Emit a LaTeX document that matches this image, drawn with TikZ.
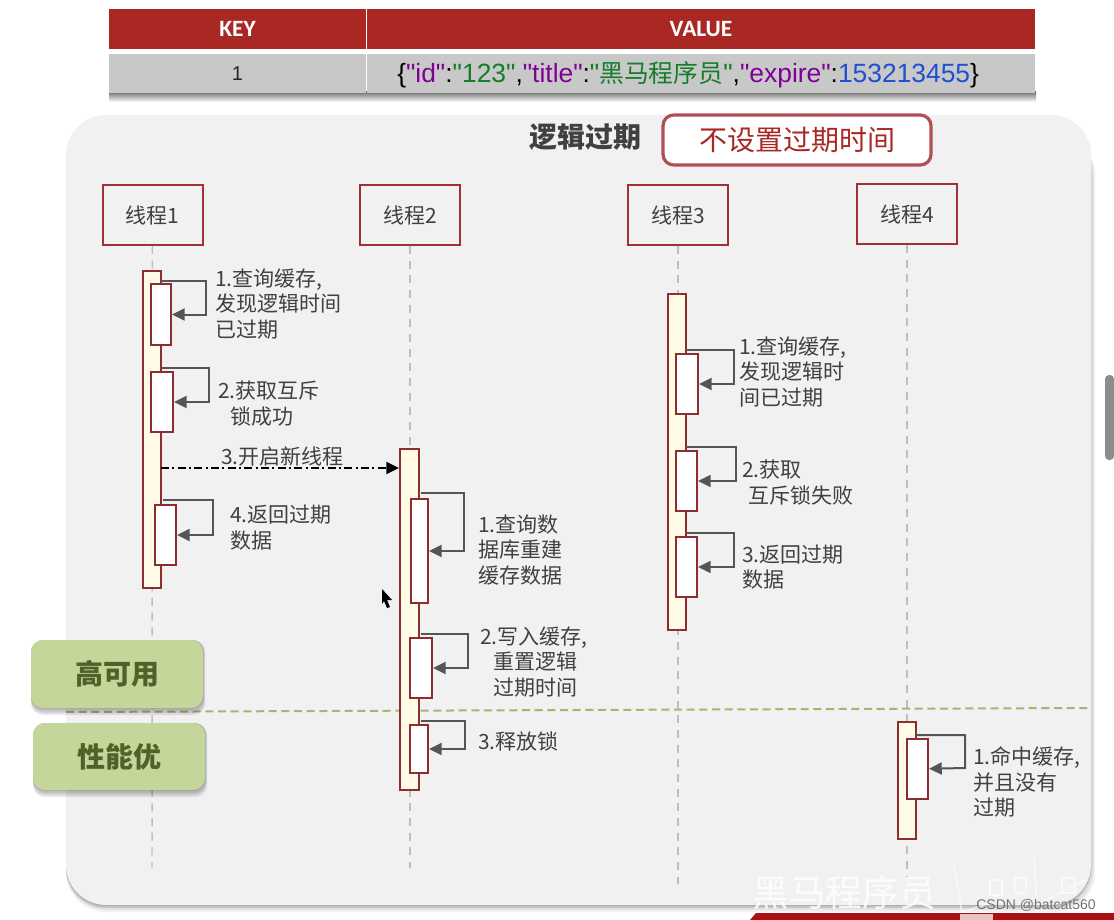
\documentclass[tikz,border=0pt]{standalone}
\usepackage{fontspec}
\usepackage{xcolor}
\usetikzlibrary{arrows.meta}
\setmainfont{Noto Sans CJK SC}
\newfontfamily\arialfont{Liberation Sans}
\newfontfamily\keyfont{Carlito}
\definecolor{hmred}{RGB}{169, 40, 36}
\definecolor{hmgrey}{RGB}{200, 200, 200}
\definecolor{hmpanel}{RGB}{241, 241, 241}
\definecolor{hmborder}{RGB}{142, 45, 48}
\definecolor{hmframe}{RGB}{163, 48, 55}
\definecolor{hmbar}{RGB}{255, 251, 230}
\definecolor{hmtext}{RGB}{64, 64, 64}
\definecolor{hmarrow}{RGB}{85, 85, 85}
\definecolor{hmlife}{RGB}{190, 190, 190}
\definecolor{hmgreen}{RGB}{197, 214, 155}
\definecolor{hmgreentext}{RGB}{79, 98, 40}
\definecolor{hmdash}{RGB}{169, 180, 111}
\definecolor{hmstrip}{RGB}{172, 16, 20}
\definecolor{jsonkey}{RGB}{128, 0, 150}
\definecolor{jsonstr}{RGB}{20, 125, 40}
\definecolor{jsonnum}{RGB}{30, 80, 210}
\tikzset{
  boxsize/.style 2 args={minimum width=#1*0.75pt, minimum height=#2*0.75pt, inner sep=0pt},
  headcell/.style={fill=hmred, text=white, font=\keyfont\bfseries\fontsize{17.5}{20}\selectfont},
  rowcell/.style={fill=hmgrey, text=black!85},
  thread/.style={draw=hmframe, line width=1.5pt, fill=hmpanel, text=hmtext, boxsize={100}{60}, font=\fontsize{15.75}{19}\selectfont},
  lifeline/.style={hmlife, line width=1.1pt, dash pattern=on 6pt off 5pt},
  outerbar/.style={draw=hmborder, line width=1.6pt, fill=hmbar},
  innerbar/.style={draw=hmborder, line width=1.6pt, fill=white},
  selfloop/.style={hmarrow, line width=1.5pt, -{Triangle[length=9.5pt,width=9pt]}},
  steptext/.style={anchor=west, align=left, inner sep=0pt, text=hmtext, font=\fontsize{15.75}{19.2}\selectfont},
  tagbox/.style={fill=hmgreen, rounded corners=9pt, boxsize={172}{68}, text=hmgreentext, font=\bfseries\fontsize{21}{25}\selectfont},
  softshade/.style={black, opacity=0.09},
  paleshade/.style={black, opacity=0.05},
}
\begin{document}
\begin{tikzpicture}[x=0.75pt, y=-0.75pt]
\useasboundingbox (0,0) rectangle (1114,920);
\fill[white] (0,0) rectangle (1114,920);

% Table
\shade[top color=black!55, bottom color=white] (109,92) rectangle (1036,102);
\node[headcell, boxsize={257}{40}] (keyhead) at (237.5,29) {KEY};
\node[headcell, boxsize={668}{40}] (valuehead) at (701,29) {VALUE};
\node[rowcell, boxsize={257}{39}, font=\arialfont\fontsize{15}{18}\selectfont] (keycell) at (237.5,73.5) {1};
\node[rowcell, boxsize={668}{39}] (valuecell) at (701,73.5) {};
\node[anchor=west, inner sep=0pt, font=\arialfont\fontsize{19.8}{22}\selectfont] (jsontext) at (397,75) {\{\textcolor{jsonkey}{"id"}:\textcolor{jsonstr}{"123"},\textcolor{jsonkey}{"title"}:\textcolor{jsonstr}{"{\rmfamily\fontsize{18.6}{22}\selectfont 黑马程序员}"},\textcolor{jsonkey}{"expire"}:\textcolor{jsonnum}{153213455}\}};

% Panel
\foreach \grow in {1,3,5,7}
  \fill[paleshade, rounded corners=30pt] (66,135) rectangle (1091+\grow*0.6,905+\grow);
\foreach \grow in {1,3}
  \fill[softshade, rounded corners=30pt] (66,500) rectangle (1091,905+\grow);
\node[fill=hmpanel, rounded corners=30pt, boxsize={1025}{790}] (panel) at (578.5,510) {};
\fill[black!45, rounded corners=3pt] (1105,375) -- (1114,375) -- (1114,460) -- (1105,460) -- cycle;

% Title
\node[text=hmtext, font=\bfseries\fontsize{21}{25}\selectfont] (title) at (585,137) {逻辑过期};
\node[draw=hmframe!85, line width=2.4pt, fill=white, rounded corners=8pt, boxsize={268}{50}, text=hmred, font=\fontsize{21}{25}\selectfont] (note) at (797,140) {不设置过期时间};

% Threads
\node[thread] (th1) at (152.5,215) {线程1};
\node[thread] (th2) at (410,215) {线程2};
\node[thread] (th3) at (678,215) {线程3};
\node[thread] (th4) at (907,214) {线程4};

\coordinate (end1) at (152,868);
\coordinate (end2) at (410,868);
\coordinate (end3) at (678,884);
\coordinate (end4) at (907,888);
\draw[lifeline] (th1) -- (end1);
\draw[lifeline] (th2) -- (end2);
\draw[lifeline] (th3) -- (end3);
\draw[lifeline] (th4) -- (end4);

% Divider
\coordinate (divl) at (66,712);
\coordinate (divr) at (1091,708);
\draw[hmdash, line width=1.5pt, dash pattern=on 6pt off 3.5pt] (divl) -- (divr);

% Thread 1
\node[outerbar, boxsize={18}{317}] (bar1) at (152,429.5) {};
\node[innerbar, boxsize={20}{61}] (q11) at (161,314.5) {};
\node[innerbar, boxsize={22}{60}] (q12) at (162,402) {};
\node[innerbar, boxsize={21}{60}] (q13) at (165.5,535) {};
\coordinate (s11) at (160,281);
\coordinate (s12) at (160,368);
\coordinate (s13) at (163,500);
\draw[selfloop] (s11) -- (206,281) -- (206,314.5) -- (q11);
\draw[selfloop] (s12) -- (209,368) -- (209,402) -- (q12);
\draw[selfloop] (s13) -- (213,500) -- (213,535) -- (q13);
\node[steptext] (t11) at (215,304) {1.查询缓存,\\发现逻辑时间\\已过期};
\node[steptext] (t12) at (218,403.5) {2.获取互斥\\\hspace*{9pt}锁成功};
\node[steptext] (t14) at (230,527.5) {4.返回过期\\数据};

% Thread 2
\node[outerbar, boxsize={19}{341}] (bar2) at (409.5,619.5) {};
\node[innerbar, boxsize={17}{104}] (q21) at (419.5,551) {};
\node[innerbar, boxsize={22}{60}] (q22) at (421,668) {};
\node[innerbar, boxsize={18}{48}] (q23) at (419,749) {};
\coordinate (s21) at (421,493);
\coordinate (s22) at (421,634);
\coordinate (s23) at (421,721);
\draw[selfloop] (s21) -- (464,493) -- (464,551) -- (q21);
\draw[selfloop] (s22) -- (468,634) -- (468,668) -- (q22);
\draw[selfloop] (s23) -- (465,721) -- (465,749) -- (q23);
\node[steptext] (t21) at (478,550) {1.查询数\\据库重建\\缓存数据};
\node[steptext] (t22) at (480,662) {2.写入缓存,\\\hspace*{10pt}重置逻辑\\\hspace*{10pt}过期时间};
\node[steptext] (t23) at (478,741) {3.释放锁};

% New thread
\coordinate (start) at (161,468);
\draw[black, line width=1.4pt, dash pattern=on 6pt off 2.5pt on 1.5pt off 2.5pt, -{Triangle[length=9.5pt,width=9pt]}] (start) -- (bar2.west |- start);
\node[steptext] (t13) at (221,457) {3.开启新线程};

% Thread 3
\node[outerbar, boxsize={18}{336}] (bar3) at (677,462) {};
\node[innerbar, boxsize={22}{60}] (q31) at (687,384) {};
\node[innerbar, boxsize={21}{60}] (q32) at (686.5,481) {};
\node[innerbar, boxsize={21}{60}] (q33) at (686.5,567) {};
\coordinate (s31) at (686,350);
\coordinate (s32) at (686,447);
\coordinate (s33) at (686,533);
\draw[selfloop] (s31) -- (734,350) -- (734,384) -- (q31);
\draw[selfloop] (s32) -- (736,447) -- (736,481) -- (q32);
\draw[selfloop] (s33) -- (734,533) -- (734,567) -- (q33);
\node[steptext] (t31) at (739,372) {1.查询缓存,\\发现逻辑时\\间已过期};
\node[steptext] (t32) at (742,482.5) {2.获取\\\hspace*{5pt}互斥锁失败};
\node[steptext] (t33) at (742,567) {3.返回过期\\数据};

% Thread 4
\node[outerbar, boxsize={18}{117}] (bar4) at (907,780.5) {};
\node[innerbar, boxsize={21}{60}] (q41) at (917.5,769) {};
\coordinate (s41) at (916,735);
\draw[selfloop] (s41) -- (965,735) -- (965,768) -- (q41);
\node[steptext] (t41) at (973,782) {1.命中缓存,\\并且没有\\过期};

% Tags
\foreach \grow in {1,3,5,7} {
  \fill[softshade, rounded corners=9pt] (31,640) rectangle (203+\grow*0.3,708+\grow);
  \fill[softshade, rounded corners=9pt] (33,723) rectangle (205+\grow*0.3,790+\grow);
}
\node[tagbox] (tag1) at (117,674) {高可用};
\node[tagbox, boxsize={172}{67}] (tag2) at (119,756.5) {性能优};

% Cursor
\fill[black] (382,589) -- (392,600) -- (387,600) -- (390,607) -- (387,608) -- (384,601) -- (382,604) -- cycle;

% Bottom strip
\fill[hmstrip] (756,913) -- (1114,913) -- (1114,920) -- (750,920) -- cycle;
\fill[white, opacity=0.75] (960,914) -- (993,914) -- (993,920) -- (960,920) -- cycle;
\draw[white, line width=1pt, opacity=0.7] (953,862) -- (962,912) -- (1000,900);
\draw[white, line width=1pt, opacity=0.7] (1034,858) -- (1037,905) -- (1085,880);
\draw[white, line width=1.5pt, opacity=0.6] (990,880) rectangle (1002,895);
\draw[white, line width=1.5pt, opacity=0.6] (1015,878) rectangle (1026,893);
\draw[white, line width=1.5pt, opacity=0.6] (1062,878) rectangle (1075,893);
\node[text=white, opacity=0.85, font=\fontsize{27.5}{32}\selectfont] (brand) at (844,893) {黑马程序员};
\node[text=black!55, font=\arialfont\fontsize{10.5}{12}\selectfont] (mark) at (1036,905) {CSDN @batcat560};
\end{tikzpicture}
\end{document}
